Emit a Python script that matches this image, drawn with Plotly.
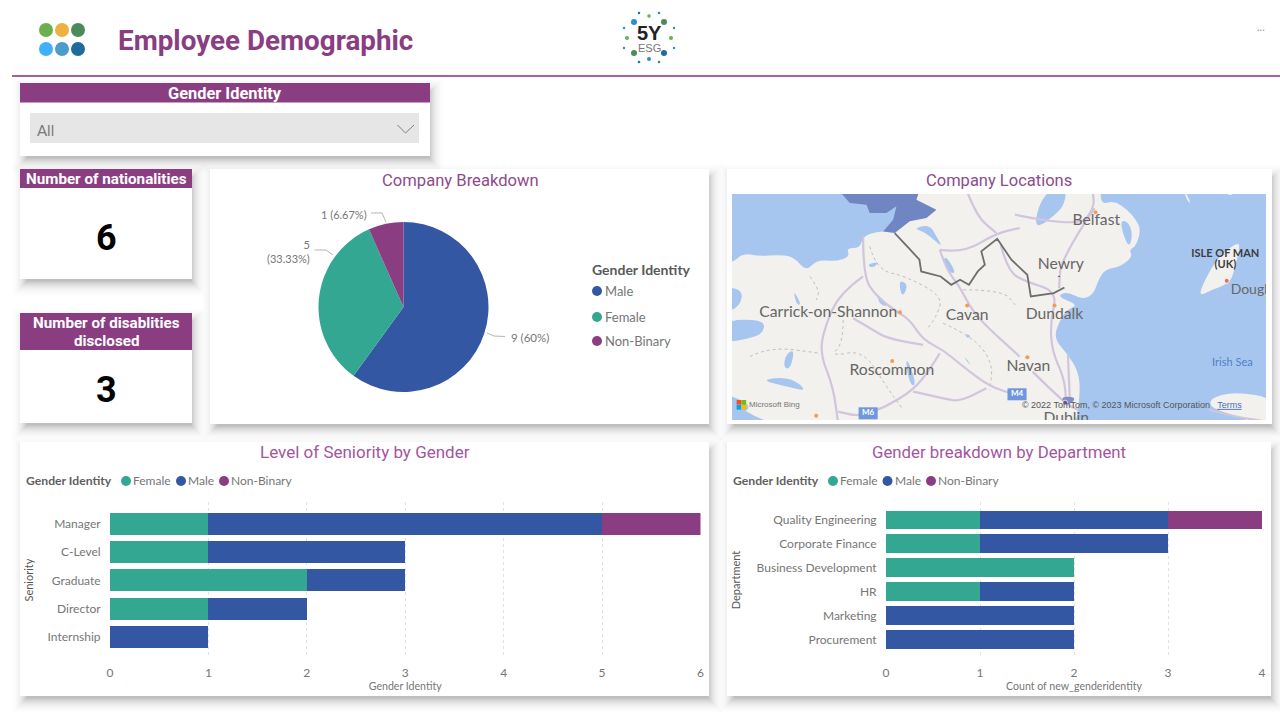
import plotly.graph_objects as go

# ---------- data ----------
genders_pie = ["Male", "Female", "Non-Binary"]
pie_values = [9, 5, 1]
pie_labels = ["9 (60%)", "5<br>(33.33%)", "1 (6.67%)"]

seniority = ["Manager", "C-Level", "Graduate", "Director", "Internship"]
sen_female = [1, 1, 2, 1, 0]
sen_male = [4, 2, 1, 1, 1]
sen_nonbinary = [1, 0, 0, 0, 0]

departments = ["Quality Engineering", "Corporate Finance", "Business Development", "HR", "Marketing", "Procurement"]
dep_female = [1, 1, 2, 1, 0, 0]
dep_male = [2, 2, 0, 1, 2, 2]
dep_nonbinary = [1, 0, 0, 0, 0, 0]

nationalities = "6"
disabilities = "3"

# ---------- style ----------
PURPLE = "#8b3d82"
TITLE = "#8f4a8c"
BLUE = "#3457a3"
TEAL = "#33a792"
GREY = "#767676"
FONT = "Lato"
TITLE_FONT = "Roboto"
W, H = 1280, 720


def fx(p):
    return p / W


def fy(p):
    return 1 - p / H


shapes = []
annotations = []


def rect(x0, y0, x1, y1, fill, opacity=1.0):
    shapes.append(dict(type="rect", xref="paper", yref="paper", x0=fx(x0), x1=fx(x1), y0=fy(y0), y1=fy(y1),
                       fillcolor=fill, opacity=opacity, line=dict(width=0), layer="below"))


def circle(cx, cy, r, fill):
    shapes.append(dict(type="circle", xref="paper", yref="paper", x0=fx(cx - r), x1=fx(cx + r),
                       y0=fy(cy + r), y1=fy(cy - r), fillcolor=fill, line=dict(width=0), layer="below"))


def polyline(points, color, width=1.0):
    path = "M" + " L".join(f"{fx(a):.5f},{fy(b):.5f}" for a, b in points)
    shapes.append(dict(type="path", xref="paper", yref="paper", path=path, line=dict(color=color, width=width),
                       layer="above"))


def text(x, y, s, size=12, color=GREY, anchor="left", bold=False, family=FONT):
    nudge = {"left": -2, "right": 2, "center": 0}[anchor]
    annotations.append(dict(xref="paper", yref="paper", x=fx(x + nudge), y=fy(y), text=f"<b>{s}</b>" if bold else s,
                            showarrow=False, xanchor=anchor, yanchor="middle", align=anchor,
                            font=dict(size=size, color=color, family=family)))


PANELS = [(20, 83, 430, 156), (20, 169, 192, 279), (20, 313, 192, 423), (210, 169, 709, 424),
          (727, 169, 1272, 424), (20, 442, 709, 696), (727, 442, 1271, 696)]
# soft shadows first, then the white cards on top of all of them
for x0, y0, x1, y1 in PANELS:
    for e in range(11, -5, -1):
        alpha = 0.005 + 0.036 * ((11 - e) / 15) ** 2
        rect(x0 + 3 - e, y0 + 6 - e, x1 + 3 + e, y1 + 6 + e, "#000000", alpha)
for x0, y0, x1, y1 in PANELS:
    rect(x0, y0, x1, y1, "#ffffff")

# ---------- header ----------
for cx, cy, col in [(46, 30, "#6ab04c"), (62, 30, "#eeb040"), (78, 30, "#4b8b5b"),
                    (46, 49, "#40b0f8"), (62, 49, "#4b9ccd"), (78, 49, "#1f6b9c")]:
    circle(cx, cy, 7, col)
text(118, 40, "Employee Demographic", size=27.8, color=PURPLE, bold=True, family=TITLE_FONT)
rect(12, 75, 1280, 77, "#a85ea2")
text(1261, 27, "...", size=11, color="#999999", anchor="center")

# 5Y ESG logo
for cx, cy, col, r in [(639, 13, "#2a6f9e", 1.3), (649, 16, "#6ab04c", 1.8), (659, 13, "#2a8fd0", 1.3),
                       (634, 22, "#2a8fd0", 3), (664, 22, "#4b8b5b", 3), (624, 28, "#2a8fd0", 1.2),
                       (674, 28, "#4b8b5b", 1.2), (627, 38, "#6ab04c", 2), (671, 38, "#6ab04c", 2),
                       (624, 48, "#2a8fd0", 1.2), (674, 48, "#2a8fd0", 1.2), (634, 53, "#4b8b5b", 3),
                       (664, 53, "#1f6b9c", 3), (639, 62, "#2a6f9e", 1.3), (649, 59, "#2a8fd0", 2),
                       (659, 62, "#4b8b5b", 1.3)]:
    circle(cx, cy, r, col)
text(649, 33, "5Y", size=20, color="#222222", anchor="center", bold=True, family="Liberation Sans")
text(649, 48, "ESG", size=11, color="#777777", anchor="center", family="Liberation Sans")

# ---------- slicer ----------
rect(20, 83, 430, 102.5, PURPLE)
text(225, 93.5, "Gender Identity", size=16.4, color="#ffffff", anchor="center", bold=True, family=TITLE_FONT)
rect(30, 113, 419, 143, "#e6e6e6")
text(37, 130, "All", size=15, color="#7a7a7a")
polyline([(397.5, 125), (405.5, 133), (414, 125)], "#7d7d7d", 1)

# ---------- cards ----------
rect(20, 169, 192, 188, PURPLE)
text(106, 178.5, "Number of nationalities", size=15.2, color="#ffffff", anchor="center", bold=True, family=TITLE_FONT)
text(106, 238, nationalities, size=36, color="#000000", anchor="center", bold=True, family=TITLE_FONT)
rect(20, 313, 192, 350, PURPLE)
text(106, 323, "Number of disablities", size=15.2, color="#ffffff", anchor="center", bold=True, family=TITLE_FONT)
text(106, 341, "disclosed", size=15.2, color="#ffffff", anchor="center", bold=True, family=TITLE_FONT)
text(106, 390, disabilities, size=36, color="#000000", anchor="center", bold=True, family=TITLE_FONT)

# ---------- titles ----------
text(460, 180, "Company Breakdown", size=16.6, color=TITLE, anchor="center", family=TITLE_FONT)
text(999, 180, "Company Locations", size=16.5, color=TITLE, anchor="center", family=TITLE_FONT)
text(365, 452, "Level of Seniority by Gender", size=17, color="#a455a0", anchor="center", family=TITLE_FONT)
text(999, 452, "Gender breakdown by Department", size=16.8, color="#a455a0", anchor="center", family=TITLE_FONT)

# ---------- pie annotations ----------
text(592, 269, "Gender Identity", size=14, color="#5a5a5a", bold=True)
for name, col, y in zip(genders_pie, [BLUE, TEAL, PURPLE], [291, 317, 341]):
    circle(597, y, 5, col)
    text(605, y - 0.5, name, size=13, color=GREY)
text(510.5, 337, pie_labels[0], size=11.5, color=GREY)
text(310, 251, pie_labels[1], size=11, color=GREY, anchor="right")
text(367, 214, pie_labels[2], size=11, color=GREY, anchor="right")
polyline([(487, 333), (494, 336), (505, 336.5)], "#b5b5b5")
polyline([(314.5, 250), (326, 250), (333, 255)], "#b5b5b5")
polyline([(371, 213), (382, 213), (386, 222)], "#b5b5b5")

# ---------- bar chart legends ----------
for lx, cxs, txs in [(26, (126, 181, 224), (133, 188, 231)), (732.5, (833, 887.5, 931), (840, 895, 938))]:
    text(lx, 481, "Gender Identity", size=12.2, color="#5f5f5f", bold=True)
    for name, col, c, t in zip(["Female", "Male", "Non-Binary"], [TEAL, BLUE, PURPLE], cxs, txs):
        circle(c, 481, 5, col)
        text(t, 481, name, size=12, color=GREY)

# ---------- map basemap (drawn in its own hidden axes so it is clipped) ----------
LAND = "#f2f1ed"
WATER = "#a7c6ef"
ROAD = "#d2c4dc"


def west(points):
    return [(14 + 0.942 * a, 75 + b) for a, b in points]


def east(points):
    return [(833.4 + 0.953 * a, 75 + b) for a, b in points]


def mpath(points, close=True):
    return "M" + " L".join(f"{a:.1f},{b:.1f}" for a, b in points) + (" Z" if close else "")


def smooth(points, close=True):
    """Rounded path through the midpoints of a polygon or polyline."""
    pts = list(points)
    if close:
        n = len(pts)
        mids = [((pts[i][0] + pts[(i + 1) % n][0]) / 2, (pts[i][1] + pts[(i + 1) % n][1]) / 2) for i in range(n)]
        path = f"M{mids[-1][0]:.1f},{mids[-1][1]:.1f}"
        for i in range(n):
            path += f" Q{pts[i][0]:.1f},{pts[i][1]:.1f} {mids[i][0]:.1f},{mids[i][1]:.1f}"
        return path + " Z"
    path = f"M{pts[0][0]:.1f},{pts[0][1]:.1f}"
    for i in range(1, len(pts) - 1):
        mx, my = (pts[i][0] + pts[i + 1][0]) / 2, (pts[i][1] + pts[i + 1][1]) / 2
        path += f" Q{pts[i][0]:.1f},{pts[i][1]:.1f} {mx:.1f},{my:.1f}"
    return path + f" L{pts[-1][0]:.1f},{pts[-1][1]:.1f}"


def mfill(points, fill, opacity=1.0, rounded=True):
    shapes.append(dict(type="path", xref="x3", yref="y3", path=smooth(points) if rounded else mpath(points),
                       fillcolor=fill, opacity=opacity, line=dict(width=0), layer="below"))


def mline(points, color, width=2.0, dash="solid", rounded=True):
    shapes.append(dict(type="path", xref="x3", yref="y3", path=smooth(points, False) if rounded else mpath(points, False),
                       line=dict(color=color, width=width, dash=dash), layer="below"))


shapes.append(dict(type="rect", xref="x3", yref="y3", x0=20, x1=1530, y0=88, y1=765, fillcolor=WATER,
                   line=dict(width=0), layer="below"))
coast = [(-40, 300)] + west([(8, 220), (40, 190), (90, 200), (140, 195), (190, 200), (230, 245), (260, 210), (320, 215),
                             (360, 200), (350, 175), (390, 175), (400, 140), (440, 125), (480, 125), (560, 40),
                             (570, -20)]) \
    + east([(240, -20), (240, 45), (280, 33), (320, 60), (345, 90), (360, 120), (345, 170), (325, 180), (335, 200),
            (300, 230), (250, 240), (230, 280), (220, 310), (190, 330), (140, 305), (110, 320), (175, 345), (140, 360)]) \
    + [(945, 470), (930, 520), (970, 570), (1000, 620), (1005, 690), (985, 820), (-40, 820)]
mfill(coast, LAND)
mfill(west([(325, 0), (570, 0), (560, 30), (620, 60), (590, 85), (540, 95), (495, 130), (460, 125), (490, 90),
            (500, 50), (470, 70), (420, 70), (410, 45), (360, 40)]), "#6f86c2", rounded=False)
mfill(east([(45, 100), (60, 40), (90, 0), (140, 0), (130, 50), (100, 80), (60, 110)]), WATER)
mfill(east([(650, 155), (652, 178), (640, 230), (625, 280), (570, 300), (530, 320), (550, 270), (590, 200)]), LAND)
mfill(east([(485, -10), (510, 45), (495, 30)]), LAND)
mfill(east([(600, -10), (650, -10), (625, 25)]), LAND)
mfill([(1370, 700), (1440, 680), (1560, 700), (1560, 800), (1440, 750), (1375, 730)], LAND)
mfill(east([(300, 90), (325, 100), (335, 135), (325, 175), (305, 130)]), WATER)
# lakes and inlets
for lake in [[(550, 115), (600, 105), (620, 140), (640, 175), (590, 130)],
             [(650, 200), (680, 250), (660, 250), (640, 210)],
             [(510, 270), (535, 285), (520, 320), (510, 300)],
             [(440, 310), (480, 350), (450, 345)],
             [(190, 300), (215, 345), (200, 345)],
             [(-20, 390), (105, 390), (100, 430), (60, 445), (-20, 460)],
             [(-20, 290), (40, 300), (30, 350), (-20, 370)],
             [(170, 490), (195, 480), (180, 540), (160, 530)],
             [(90, 570), (180, 560), (235, 605), (170, 590)],
             [(-20, 610), (60, 640), (50, 670), (-20, 650)],
             [(530, 500), (560, 580), (545, 590), (530, 540)],
             [(700, 495), (725, 525), (715, 520)],
             [(708, 430), (725, 440), (710, 445)],
             [(410, 225), (450, 215), (430, 235)]]:
    mfill(west(lake), WATER)
# county boundaries
for b in [[(420, 170), (440, 240), (530, 260), (640, 320), (620, 380), (590, 420)],
          [(700, 300), (820, 300), (860, 350)],
          [(640, 400), (730, 440), (790, 520), (780, 600)],
          [(340, 390), (340, 460), (300, 500), (400, 480), (470, 590), (520, 660)],
          [(240, 260), (270, 300), (260, 330)],
          [(60, 500), (120, 470), (270, 490)]]:
    mline(west(b), "#bdbdbd", 1, "dot")
# roads
for r in [[(400, 140), (400, 260), (440, 320), (500, 365), (540, 390), (580, 450), (640, 480), (700, 530), (780, 590),
           (860, 615)],
          [(400, 260), (330, 310), (285, 410), (270, 490), (310, 590), (325, 700)],
          [(370, 385), (430, 420), (470, 445), (580, 465)],
          [(630, 490), (600, 540), (550, 600), (470, 650), (390, 680), (325, 665)],
          [(550, 605), (640, 625), (690, 635), (770, 595)],
          [(630, 180), (700, 190), (800, 130), (870, 115)],
          [(710, 0), (740, 80), (800, 130)],
          [(630, 180), (650, 240), (690, 290), (720, 350), (760, 400), (870, 500)]]:
    mline(west(r), ROAD, 2.2)
for r in [[(780, 240), (800, 320), (850, 350), (940, 380), (920, 470), (925, 560), (960, 640), (965, 715)],
          [(820, 150), (1000, 190), (1045, 130), (1040, 80)],
          [(870, 620), (960, 715), (1000, 735)],
          [(1045, 130), (950, 280), (945, 370)],
          [(970, 570), (975, 700)],
          [(1370, 735), (1440, 755), (1535, 770)]]:
    mline(r, ROAD, 2.2)
mline([(480, 205), (520, 250), (550, 285), (555, 320), (610, 335), (640, 360), (665, 345), (690, 360), (715, 320),
       (735, 300), (725, 260), (770, 222), (810, 285), (855, 330), (865, 395), (930, 385), (960, 368)], "#6e6e6e", 1.8,
      rounded=False)
# Dublin highlighted area and shields
mfill([(950, 695), (990, 695), (985, 712), (960, 720)], "#7d8ec9")
for sx, sy in [(826, 688), (405, 745)]:
    shapes.append(dict(type="rect", xref="x3", yref="y3", x0=sx - 27, x1=sx + 27, y0=sy - 18, y1=sy + 18,
                       fillcolor="#6f97dc", line=dict(width=0), layer="below"))
# bing logo
for sx, sy, col in [(33, 705, "#f25022"), (47, 705, "#7fba00"), (33, 720, "#00a4ef"), (47, 720, "#ffb900")]:
    shapes.append(dict(type="rect", xref="x3", yref="y3", x0=sx, x1=sx + 13, y0=sy, y1=sy + 14, fillcolor=col,
                       line=dict(width=0), layer="below"))

# Map labels and dots, in basemap coordinates
map_places = ["Carrick-on-Shannon", "Cavan", "Dundalk", "Roscommon", "Navan", "Newry", "Belfast", "Dublin"]
map_x = [292, 685, 932, 472, 858, 950, 1050, 965]
map_y = [445, 453, 450, 618, 607, 300, 170, 763]
map_dots_x = [1048, 685, 495, 473, 855, 932, 258]
map_dots_y = [143, 422, 442, 588, 577, 422, 752]

# ---------- figure ----------
fig = go.Figure()

fig.add_trace(go.Pie(labels=genders_pie, values=pie_values, sort=False, direction="clockwise", rotation=0,
                     marker=dict(colors=[BLUE, TEAL, PURPLE], line=dict(width=0)), textinfo="none", showlegend=False,
                     domain=dict(x=[fx(318.5), fx(488.5)], y=[fy(392), fy(222)])))

for vals, name, col in [(sen_female, "Female", TEAL), (sen_male, "Male", BLUE), (sen_nonbinary, "Non-Binary", PURPLE)]:
    fig.add_trace(go.Bar(y=seniority, x=vals, name=name, orientation="h", marker=dict(color=col, line=dict(width=0)),
                         showlegend=False, xaxis="x", yaxis="y"))
for vals, name, col in [(dep_female, "Female", TEAL), (dep_male, "Male", BLUE), (dep_nonbinary, "Non-Binary", PURPLE)]:
    fig.add_trace(go.Bar(y=departments, x=vals, name=name, orientation="h", marker=dict(color=col, line=dict(width=0)),
                         showlegend=False, xaxis="x2", yaxis="y2"))

fig.add_trace(go.Scatter(x=map_dots_x, y=map_dots_y, mode="markers", marker=dict(color="#f59a5b", size=4),
                         showlegend=False, xaxis="x3", yaxis="y3", hoverinfo="skip"))
fig.add_trace(go.Scatter(x=[1419, 945, 962], y=[348, 335, 713], mode="markers",
                         marker=dict(color=["#e8352b", "#333333", "#6b3a80"], size=[5, 3, 5]),
                         showlegend=False, xaxis="x3", yaxis="y3", hoverinfo="skip"))
fig.add_trace(go.Scatter(x=map_x, y=map_y, text=map_places, mode="text", textposition="middle center",
                         textfont=dict(size=15.7, color="#666666", family=FONT), showlegend=False,
                         xaxis="x3", yaxis="y3", hoverinfo="skip"))
fig.add_trace(go.Scatter(x=[1430], y=[378], text=["Dougl"], mode="text", textposition="middle right",
                         textfont=dict(size=14, color="#666666", family=FONT), showlegend=False,
                         xaxis="x3", yaxis="y3", hoverinfo="skip"))
fig.add_trace(go.Scatter(x=[1415, 1415], y=[268, 302], text=["<b>ISLE OF MAN</b>", "<b>(UK)</b>"], mode="text",
                         textfont=dict(size=11, color="#3c3c3c", family=FONT), showlegend=False,
                         xaxis="x3", yaxis="y3", hoverinfo="skip"))
fig.add_trace(go.Scatter(x=[1435], y=[595], text=["Irish Sea"], mode="text",
                         textfont=dict(size=11, color="#4f7fc8", family=FONT), showlegend=False,
                         xaxis="x3", yaxis="y3", hoverinfo="skip"))
fig.add_trace(go.Scatter(x=[826, 405], y=[688, 745], text=["<b>M4</b>", "<b>M6</b>"], mode="text",
                         textfont=dict(size=8, color="#ffffff", family=FONT), showlegend=False,
                         xaxis="x3", yaxis="y3", hoverinfo="skip"))
fig.add_trace(go.Scatter(x=[68], y=[721], text=["Microsoft Bing"], mode="text", textposition="middle right",
                         textfont=dict(size=8, color="#777777", family="Liberation Sans"), showlegend=False,
                         xaxis="x3", yaxis="y3", hoverinfo="skip"))
fig.add_trace(go.Scatter(x=[1372, 1392], y=[722, 722], mode="text", textposition=["middle left", "middle right"],
                         text=["\u00a9 2022 TomTom, \u00a9 2023 Microsoft Corporation", "<u>Terms</u>"],
                         textfont=dict(size=9, color=["#555555", "#4a6fb5"], family="Liberation Sans"),
                         showlegend=False, xaxis="x3", yaxis="y3", hoverinfo="skip"))

tickfont = dict(size=12, color=GREY, family=FONT)
titlefont = dict(size=10.6, color=GREY, family=FONT)


def xaxis(x0, x1, rng, anchor, title):
    return dict(domain=[fx(x0), fx(x1)], range=rng, dtick=1, anchor=anchor, showgrid=True, griddash="dot",
                gridcolor="#e2e2e2", gridwidth=1, zeroline=False, showline=False, ticks="outside", ticklen=4,
                tickcolor="rgba(0,0,0,0)", tickfont=tickfont,
                title=dict(text=title, font=titlefont, standoff=2), automargin=False)


def yaxis(top, bottom, rng, anchor, title, standoff):
    return dict(domain=[fy(bottom), fy(top)], type="category", range=rng, anchor=anchor, showgrid=False,
                zeroline=False, showline=False, ticks="outside", ticklen=6, tickcolor="rgba(0,0,0,0)",
                tickfont=tickfont,
                title=dict(text=title, font=dict(size=11, color="#555555", family=FONT), standoff=standoff),
                automargin=False)


fig.update_layout(
    width=W, height=H, margin=dict(l=0, r=0, t=0, b=0), paper_bgcolor="#ffffff", plot_bgcolor="rgba(0,0,0,0)",
    barmode="stack", bargap=0.22, showlegend=False, font=dict(family=FONT),
    xaxis=xaxis(110, 700.5, [0, 6], "y", "Gender Identity"),
    yaxis=yaxis(502, 658, [4.75, -0.78], "x", "Seniority", 11),
    xaxis2=xaxis(886, 1262, [0, 4], "y2", "Count of new_genderidentity"),
    yaxis2=yaxis(502, 658, [5.78, -0.75], "x2", "Department", 13),
    xaxis3=dict(domain=[fx(732), fx(1266)], range=[20, 1530], visible=False, anchor="y3", fixedrange=True),
    yaxis3=dict(domain=[fy(420), fy(194)], range=[765, 88], visible=False, anchor="x3", fixedrange=True),
    shapes=shapes, annotations=annotations,
)

fig.write_html("out.html", config=dict(displayModeBar=False),
               post_script="document.body.style.margin='0';document.documentElement.style.overflow='hidden';")
